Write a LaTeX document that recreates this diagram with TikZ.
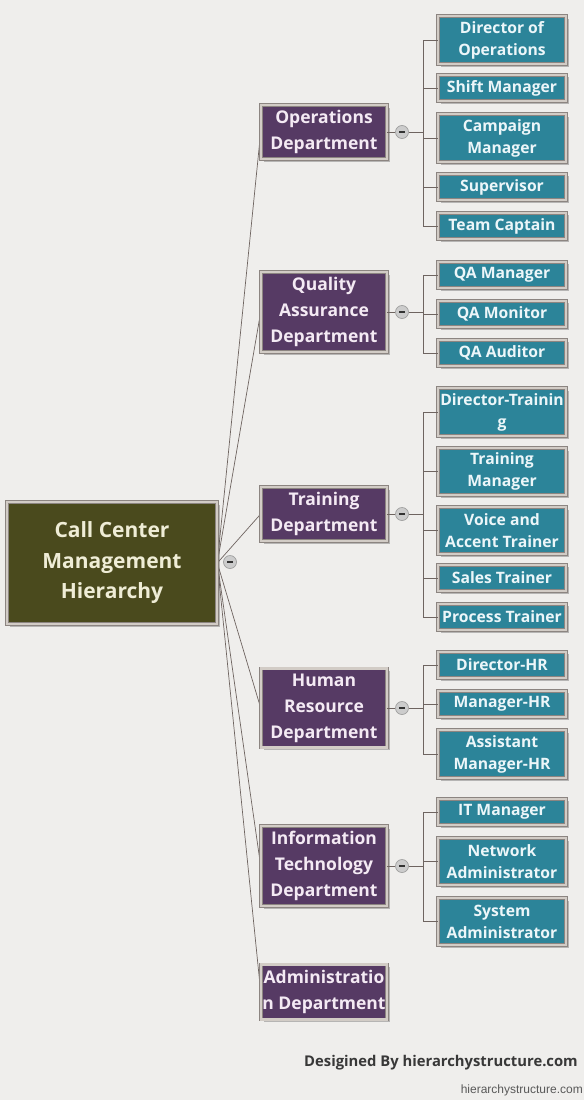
\documentclass[tikz,border=0pt]{standalone}
\usepackage{fontspec}
\setmainfont{Open Sans}
\newfontfamily\arialf{Liberation Sans}
\usetikzlibrary{shadows,backgrounds}
\definecolor{bgc}{HTML}{EFEEEC}
\definecolor{olivefill}{HTML}{4A4A1D}
\definecolor{purplefill}{HTML}{563A64}
\definecolor{tealfill}{HTML}{2C8499}
\definecolor{frameout}{HTML}{8C8581}
\definecolor{framein}{HTML}{D2CCC6}
\definecolor{roottxt}{HTML}{EFEDD6}
\definecolor{depttxt}{HTML}{F4EAF4}
\definecolor{leaftxt}{HTML}{ECF6F9}
\definecolor{connc}{HTML}{6E6460}
\tikzset{
  box/.style={rectangle, inner sep=0pt, align=center, draw=frameout, double=framein,
    double distance=2.4pt, line width=0.6pt,
    drop shadow={shadow xshift=2.5pt, shadow yshift=-2.5pt, opacity=0.35, fill=black!70}},
  rootbox/.style={box, fill=olivefill, text=roottxt, minimum width=210pt, minimum height=122pt,
    font=\bfseries\fontsize{21}{30.5}\selectfont},
  deptbox/.style={box, fill=purplefill, text=depttxt, minimum width=126pt,
    font=\bfseries\fontsize{17.5}{26}\selectfont},
  leafbox/.style={box, fill=tealfill, text=leaftxt, minimum width=128pt, minimum height=26.5pt,
    font=\bfseries\fontsize{15.7}{22}\selectfont},
  minus/.style={circle, inner sep=0pt, minimum size=13pt, fill=gray!40, draw=gray!75,
    line width=0.7pt},
  conn/.style={draw=connc, line width=0.7pt},
}
\newcommand{\mbar}{\color{black!80}\rule[-1pt]{6pt}{2pt}}
\begin{document}
\begin{tikzpicture}[x=1pt,y=-1pt]
\useasboundingbox (0,0) rectangle (584,1100);
\begin{scope}[on background layer]
  \fill[bgc] (0,0) rectangle (584,1100);
\end{scope}

% root
\node[rootbox] (root) at (112,563) {Call Center\\Management\\Hierarchy};
% departments
\node[deptbox, minimum height=54pt] (dOps) at (324,132) {Operations\\Department};
\node[deptbox, minimum height=80pt] (dQA) at (324,312) {Quality\\Assurance\\Department};
\node[deptbox, minimum height=54pt] (dTr) at (324,514) {Training\\Department};
\node[deptbox, minimum height=79pt] (dHR) at (324,708) {Human\\Resource\\Department};
\node[deptbox, minimum height=80pt] (dIT) at (324,866) {Information\\Technology\\Department};
\node[deptbox, minimum height=55pt] (dAd) at (324,992) {Administratio\\n Department};

% leaves - operations
\node[leafbox, minimum height=48pt] (o1) at (502,40) {Director of\\Operations};
\node[leafbox] (o2) at (502,88) {Shift Manager};
\node[leafbox, minimum height=48pt] (o3) at (502,138) {Campaign\\Manager};
\node[leafbox] (o4) at (502,187) {Supervisor};
\node[leafbox] (o5) at (502,226) {Team Captain};
% QA
\node[leafbox] (q1) at (502,275) {QA Manager};
\node[leafbox] (q2) at (502,314) {QA Monitor};
\node[leafbox] (q3) at (502,353) {QA Auditor};
% training
\node[leafbox, minimum height=48pt] (t1) at (502,412) {Director-Trainin\\g};
\node[leafbox, minimum height=47pt] (t2) at (502,471.5) {Training\\Manager};
\node[leafbox, minimum height=47pt] (t3) at (502,530.5) {Voice and\\Accent Trainer};
\node[leafbox] (t4) at (502,578) {Sales Trainer};
\node[leafbox] (t5) at (502,617) {Process Trainer};
% HR
\node[leafbox] (h1) at (502,665) {Director-HR};
\node[leafbox] (h2) at (502,704) {Manager-HR};
\node[leafbox, minimum height=48pt] (h3) at (502,754) {Assistant\\Manager-HR};
% IT
\node[leafbox] (i1) at (502,812) {IT Manager};
\node[leafbox, minimum height=47pt] (i2) at (502,861.5) {Network\\Administrator};
\node[leafbox, minimum height=47pt] (i3) at (502,921.5) {System\\Administrator};

% root connectors
\begin{scope}[on background layer]
  \foreach \d in {dOps,dQA,dTr,dHR,dIT,dAd}
    \draw[conn] (root.east) -- (\d.west);
\end{scope}

% collapse markers
\node[minus] (mRoot) at (230,562) {\mbar};
\node[minus] (mOps) at (402,132) {\mbar};
\node[minus] (mQA) at (402,312) {\mbar};
\node[minus] (mTr) at (402,514) {\mbar};
\node[minus] (mHR) at (402,708) {\mbar};
\node[minus] (mIT) at (402,866) {\mbar};

% dept to marker
\foreach \d/\m in {dOps/mOps,dQA/mQA,dTr/mTr,dHR/mHR,dIT/mIT}
  \draw[conn] (\d.east) -- (\m.west);

% marker to leaves
\foreach \n in {o1,o2,o3,o4,o5} \draw[conn] (\n.west) -- ++(-14pt,0) |- (mOps.east);
\foreach \n in {q1,q2,q3} \draw[conn] (\n.west) -- ++(-14pt,0) |- (mQA.east);
\foreach \n in {t1,t2,t3,t4,t5} \draw[conn] (\n.west) -- ++(-14pt,0) |- (mTr.east);
\foreach \n in {h1,h2,h3} \draw[conn] (\n.west) -- ++(-14pt,0) |- (mHR.east);
\foreach \n in {i1,i2,i3} \draw[conn] (\n.west) -- ++(-14pt,0) |- (mIT.east);

% footer
\node[anchor=east, inner sep=0pt, text=black!78, font=\bfseries\fontsize{14.8}{16}\selectfont] (credit) at (578,1063) {Desigined By hierarchystructure.com};
\node[anchor=east, inner sep=0pt, text=black!65, font=\arialf\fontsize{12}{14}\selectfont] (site) at (583,1090) {hierarchystructure.com};
\end{tikzpicture}
\end{document}
